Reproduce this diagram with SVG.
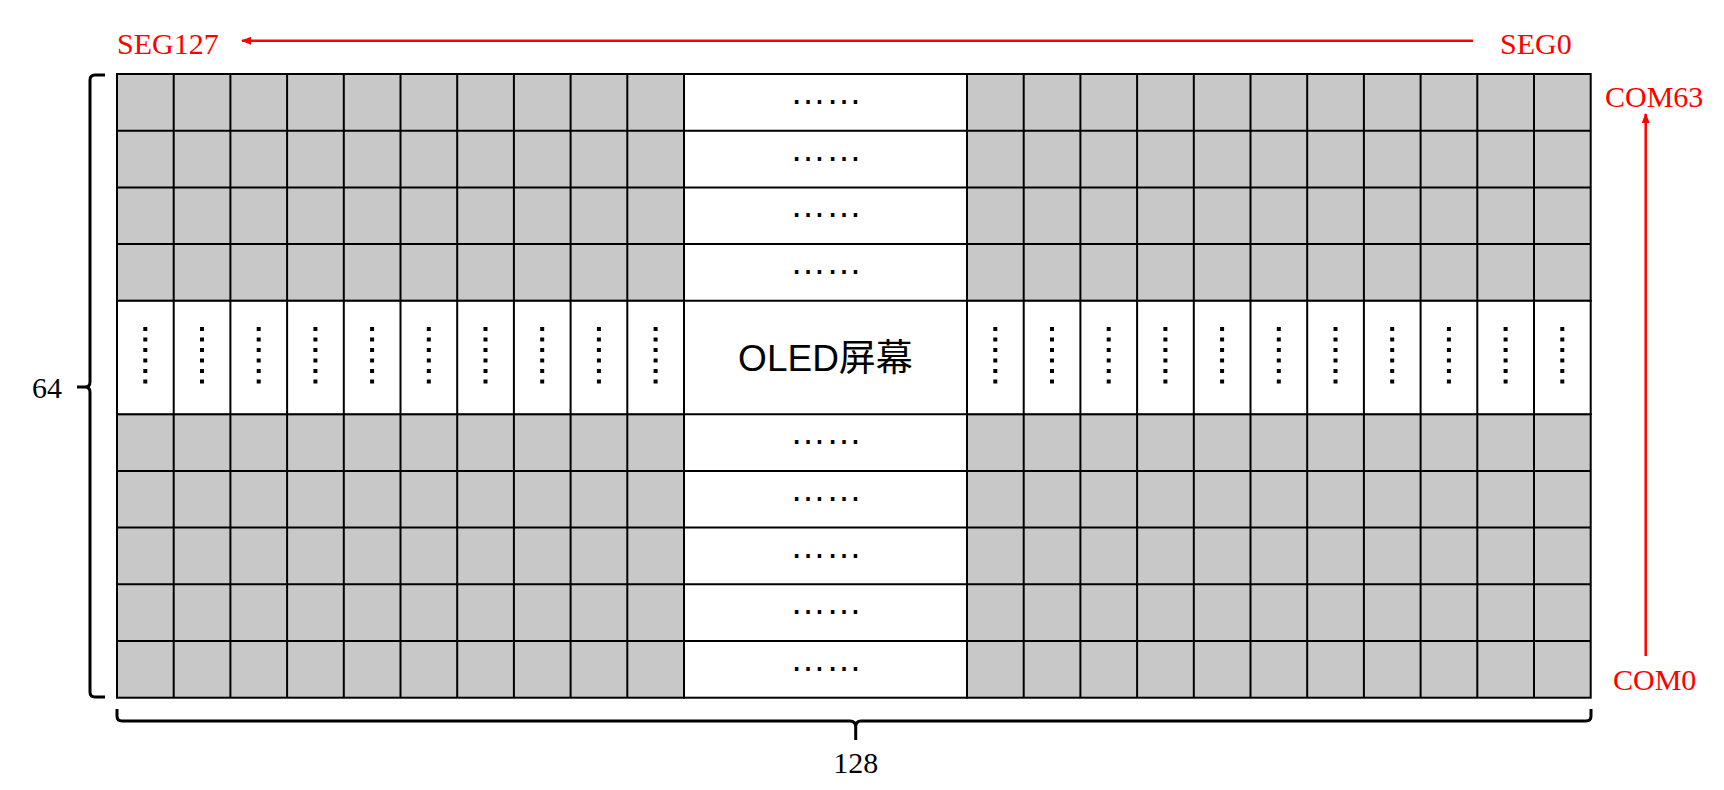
<svg xmlns="http://www.w3.org/2000/svg" width="1724" height="790" viewBox="0 0 1724 790">
<style>
.g{fill:#c8c8c8;stroke:#000;stroke-width:2}
.w{fill:#fff;stroke:#000;stroke-width:2}
.red{font-family:"Liberation Serif",serif;font-size:30px;fill:#f00}
.blk{font-family:"Liberation Serif",serif;font-size:30px;fill:#000}
.dots{font-family:"Liberation Sans",sans-serif;font-size:36px;fill:#000;text-anchor:middle}
.vd{stroke:#000;stroke-width:4;stroke-dasharray:4 6.5}
.br{fill:none;stroke:#000;stroke-width:3}
</style>
<defs>
<marker id="ah" markerWidth="10" markerHeight="8" refX="9" refY="4" orient="auto" markerUnits="userSpaceOnUse"><path d="M0,0 L10,4 L0,8 Z" fill="#f00"/></marker>
</defs>
<rect width="1724" height="790" fill="#fff"/>
<g id="left-block">
<rect class="g" x="117" y="74" width="567" height="226.8"/>
<rect class="g" x="117" y="414.2" width="567" height="283.5"/>
<rect class="w" x="117" y="300.8" width="567" height="113.4"/>
</g>
<g id="right-block">
<rect class="g" x="967" y="74" width="623.7" height="226.8"/>
<rect class="g" x="967" y="414.2" width="623.7" height="283.5"/>
<rect class="w" x="967" y="300.8" width="623.7" height="113.4"/>
</g>
<g id="middle">
<rect class="w" x="684" y="74" width="283" height="623.7"/>
</g>
<g id="gridlines" stroke="#000" stroke-width="2">
<path d="M117,130.7H684M117,187.4H684M117,244.1H684M117,470.9H684M117,527.6H684M117,584.3H684M117,641H684"/>
<path d="M967,130.7H1590.7M967,187.4H1590.7M967,244.1H1590.7M967,470.9H1590.7M967,527.6H1590.7M967,584.3H1590.7M967,641H1590.7"/>
<path d="M684,130.7H967M684,187.4H967M684,244.1H967M684,300.8H967M684,414.2H967M684,470.9H967M684,527.6H967M684,584.3H967M684,641H967"/>
<path d="M173.7,74V697.7M230.4,74V697.7M287.1,74V697.7M343.8,74V697.7M400.5,74V697.7M457.2,74V697.7M513.9,74V697.7M570.6,74V697.7M627.3,74V697.7"/>
<path d="M1023.7,74V697.7M1080.4,74V697.7M1137.1,74V697.7M1193.8,74V697.7M1250.5,74V697.7M1307.2,74V697.7M1363.9,74V697.7M1420.6,74V697.7M1477.3,74V697.7M1534,74V697.7"/>
</g>
<g id="hdots" class="dots">
<text x="826" y="104">……</text><text x="826" y="161">……</text><text x="826" y="217">……</text><text x="826" y="274">……</text>
<text x="826" y="444">……</text><text x="826" y="501">……</text><text x="826" y="558">……</text><text x="826" y="614">……</text><text x="826" y="671">……</text>
</g>
<g id="vdots" class="vd">
<path d="M145.3,327V385M202,327V385M258.7,327V385M315.4,327V385M372.1,327V385M428.8,327V385M485.5,327V385M542.2,327V385M598.9,327V385M655.6,327V385"/>
<path d="M995.3,327V385M1052,327V385M1108.7,327V385M1165.4,327V385M1222.1,327V385M1278.8,327V385M1335.5,327V385M1392.2,327V385M1448.9,327V385M1505.6,327V385M1562.3,327V385"/>
</g>
<text x="825.5" y="371" font-family="'Liberation Sans','Noto Sans CJK SC',sans-serif" font-size="37" text-anchor="middle">OLED屏幕</text>
<g id="connectors">
<path d="M1473,40.7H242" stroke="#f00" stroke-width="2.5" marker-end="url(#ah)"/>
<path d="M1645.7,656V114" stroke="#f00" stroke-width="2.5" marker-end="url(#ah)"/>
<path class="br" d="M105,75H95Q90,75 90,80V382Q90,387 85,387H77M85,387Q90,387 90,392V692Q90,697 95,697H105"/>
<path class="br" d="M117,709V716Q117,721 122,721H850Q855.7,721 855.7,727V740M855.7,727Q855.7,721 861,721H1586Q1591,721 1591,716V709"/>
</g>
<text class="red" x="117" y="54">SEG127</text>
<text class="red" x="1500" y="54">SEG0</text>
<text class="red" x="1605" y="107">COM63</text>
<text class="red" x="1613" y="690">COM0</text>
<text class="blk" x="32" y="398">64</text>
<text class="blk" x="855.7" y="773" text-anchor="middle">128</text>
</svg>
